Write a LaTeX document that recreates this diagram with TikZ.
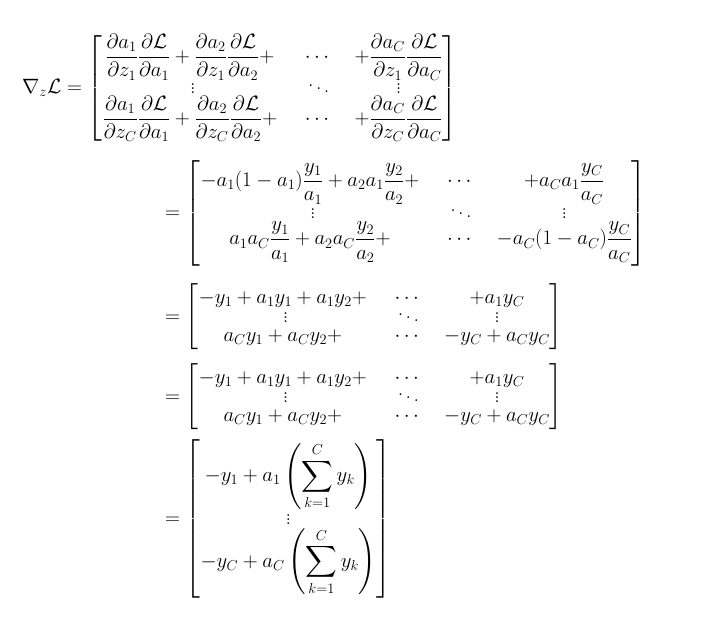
\documentclass[tikz,border=0pt]{standalone}
\usepackage{amsmath,amssymb}
\begin{document}
\begin{tikzpicture}[x=1pt,y=-1pt,eq/.style={anchor=west,inner sep=0pt,font=\fontsize{22}{26}\selectfont}]
\useasboundingbox (0,0) rectangle (706,619);
\setlength{\arraycolsep}{11pt}
\node[eq] (r1) at (22,88) {$\nabla_z\mathcal{L}=\begin{bmatrix}
\dfrac{\partial a_1}{\partial z_1}\dfrac{\partial\mathcal L}{\partial a_1}+\dfrac{\partial a_2}{\partial z_1}\dfrac{\partial\mathcal L}{\partial a_2}+\; & \cdots & +\dfrac{\partial a_C}{\partial z_1}\dfrac{\partial\mathcal L}{\partial a_C}\\[-5pt]
\vdots & \ddots & \vdots\\[-5pt]
\dfrac{\partial a_1}{\partial z_C}\dfrac{\partial\mathcal L}{\partial a_1}+\dfrac{\partial a_2}{\partial z_C}\dfrac{\partial\mathcal L}{\partial a_2}+\; & \cdots & +\dfrac{\partial a_C}{\partial z_C}\dfrac{\partial\mathcal L}{\partial a_C}
\end{bmatrix}$};
\node[eq] (r2) at (165,213) {$=\begin{bmatrix}
-a_1(1-a_1)\dfrac{y_1}{a_1}+a_2a_1\dfrac{y_2}{a_2}+\; & \cdots & +a_Ca_1\dfrac{y_C}{a_C}\\[-4pt]
\vdots & \ddots & \vdots\\[-4pt]
a_1a_C\dfrac{y_1}{a_1}+a_2a_C\dfrac{y_2}{a_2}+\; & \cdots & -a_C(1-a_C)\dfrac{y_C}{a_C}
\end{bmatrix}$};
\node[eq] (r3) at (165,317) {$=\begin{bmatrix}
-y_1+a_1y_1+a_1y_2+\; & \cdots & +a_1y_C\\[-7pt]
\vdots & \ddots & \vdots\\[-7pt]
a_Cy_1+a_Cy_2+\; & \cdots & -y_C+a_Cy_C
\end{bmatrix}$};
\node[eq] (r4) at (165,397) {$=\begin{bmatrix}
-y_1+a_1y_1+a_1y_2+\; & \cdots & +a_1y_C\\[-7pt]
\vdots & \ddots & \vdots\\[-7pt]
a_Cy_1+a_Cy_2+\; & \cdots & -y_C+a_Cy_C
\end{bmatrix}$};
\node[eq] (r5) at (165,519) {$=\begin{bmatrix}
-y_1+a_1\left(\displaystyle\sum_{k=1}^{C}y_k\right)\\[-4pt]
\vdots\\[-4pt]
-y_C+a_C\left(\displaystyle\sum_{k=1}^{C}y_k\right)
\end{bmatrix}$};
\end{tikzpicture}
\end{document}
